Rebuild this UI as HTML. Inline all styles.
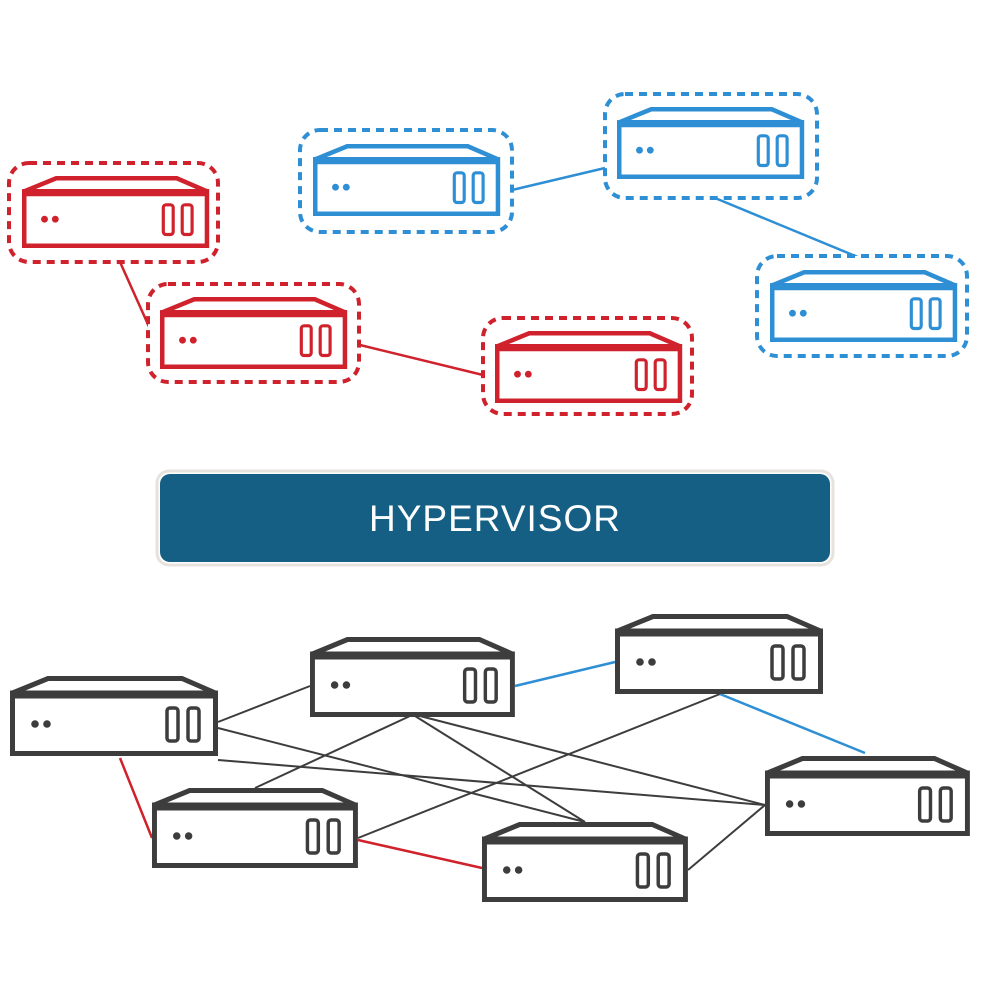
<!DOCTYPE html>
<html><head><meta charset="utf-8"><style>
html,body{margin:0;padding:0;background:#fff;width:1000px;height:986px;overflow:hidden}
svg{display:block}
</style></head><body>
<svg width="1000" height="986" viewBox="0 0 1000 986" xmlns="http://www.w3.org/2000/svg">
<defs>
<g id="srv">
<path d="M2.5,17 L38,2.5 L172,2.5 L205.5,17 Z" fill="#fff"/>
<rect x="2.5" y="17" width="203" height="60.5" fill="#fff"/>
<line x1="2.5" y1="20" x2="205.5" y2="20" stroke-width="5"/>
<circle cx="25" cy="48" r="3.8" stroke="none" fill="currentColor"/>
<circle cx="37" cy="48" r="3.8" stroke="none" fill="currentColor"/>
<rect x="157" y="32" width="11" height="33" rx="3" stroke-width="3.5" fill="none"/>
<rect x="178" y="32" width="11" height="33" rx="3" stroke-width="3.5" fill="none"/>
</g>
</defs>

<g stroke-width="2.5" fill="none">
<line x1="120" y1="262" x2="155" y2="340" stroke="#d0222c"/>
<line x1="360" y1="345" x2="483" y2="375" stroke="#d0222c"/>
<line x1="512" y1="190" x2="605" y2="168" stroke="#2f8fd5"/>
<line x1="715" y1="198" x2="865" y2="260" stroke="#2f8fd5"/>
</g>

<g stroke="#d0222c" color="#d0222c" stroke-width="5" fill="none">
<rect x="9" y="163" width="209" height="99" rx="20" stroke-width="4" stroke-dasharray="8 6" fill="#fff"/>
<rect x="148" y="284" width="211" height="98" rx="20" stroke-width="4" stroke-dasharray="8 6" fill="#fff"/>
<rect x="483" y="318" width="209" height="96" rx="20" stroke-width="4" stroke-dasharray="8 6" fill="#fff"/>
<use href="#srv" transform="translate(22,176) scale(0.9,0.9)"/>
<use href="#srv" transform="translate(160,297) scale(0.9,0.9)"/>
<use href="#srv" transform="translate(495,331) scale(0.9,0.9)"/>
</g>
<g stroke="#2f8fd5" color="#2f8fd5" stroke-width="5" fill="none">
<rect x="300" y="130" width="212" height="102" rx="20" stroke-width="4" stroke-dasharray="8 6" fill="#fff"/>
<rect x="605" y="94" width="212" height="104" rx="20" stroke-width="4" stroke-dasharray="8 6" fill="#fff"/>
<rect x="757" y="256" width="210" height="100" rx="20" stroke-width="4" stroke-dasharray="8 6" fill="#fff"/>
<use href="#srv" transform="translate(313,144) scale(0.9,0.9)"/>
<use href="#srv" transform="translate(617,107) scale(0.9,0.9)"/>
<use href="#srv" transform="translate(770,270) scale(0.9,0.9)"/>
</g>

<rect x="157" y="471" width="676" height="94" rx="12" fill="#fff" stroke="#e6e3df" stroke-width="3"/>
<rect x="160" y="474" width="670" height="88" rx="10" fill="#155f85"/>
<text x="495" y="531" text-anchor="middle" font-family="Liberation Sans, sans-serif" font-size="37" fill="#fff" letter-spacing="1">HYPERVISOR</text>

<g stroke="#3d3d3d" stroke-width="2" fill="none">
<line x1="218" y1="722" x2="310" y2="686"/>
<line x1="218" y1="728" x2="585" y2="822"/>
<line x1="218" y1="760" x2="765" y2="805"/>
<line x1="415" y1="716" x2="585" y2="822"/>
<line x1="420" y1="716" x2="765" y2="805"/>
<line x1="410" y1="716" x2="255" y2="788"/>
<line x1="720" y1="694" x2="358" y2="838"/>
<line x1="765" y1="805" x2="688" y2="870"/>
</g>
<g stroke-width="2.5" fill="none">
<line x1="515" y1="686" x2="615" y2="662" stroke="#2f8fd5"/>
<line x1="720" y1="694" x2="865" y2="753" stroke="#2f8fd5"/>
<line x1="120" y1="758" x2="152" y2="838" stroke="#d0222c"/>
<line x1="358" y1="840" x2="482" y2="868" stroke="#d0222c"/>
</g>

<g stroke="#3d3d3d" color="#3d3d3d" stroke-width="5" fill="none">
<use href="#srv" transform="translate(10,676)"/>
<use href="#srv" transform="translate(310,637) scale(0.985,1)"/>
<use href="#srv" transform="translate(615,614)"/>
<use href="#srv" transform="translate(152,788) scale(0.99,1)"/>
<use href="#srv" transform="translate(482,822) scale(0.99,1)"/>
<use href="#srv" transform="translate(765,756) scale(0.985,1)"/>
</g>
</svg>
</body></html>
